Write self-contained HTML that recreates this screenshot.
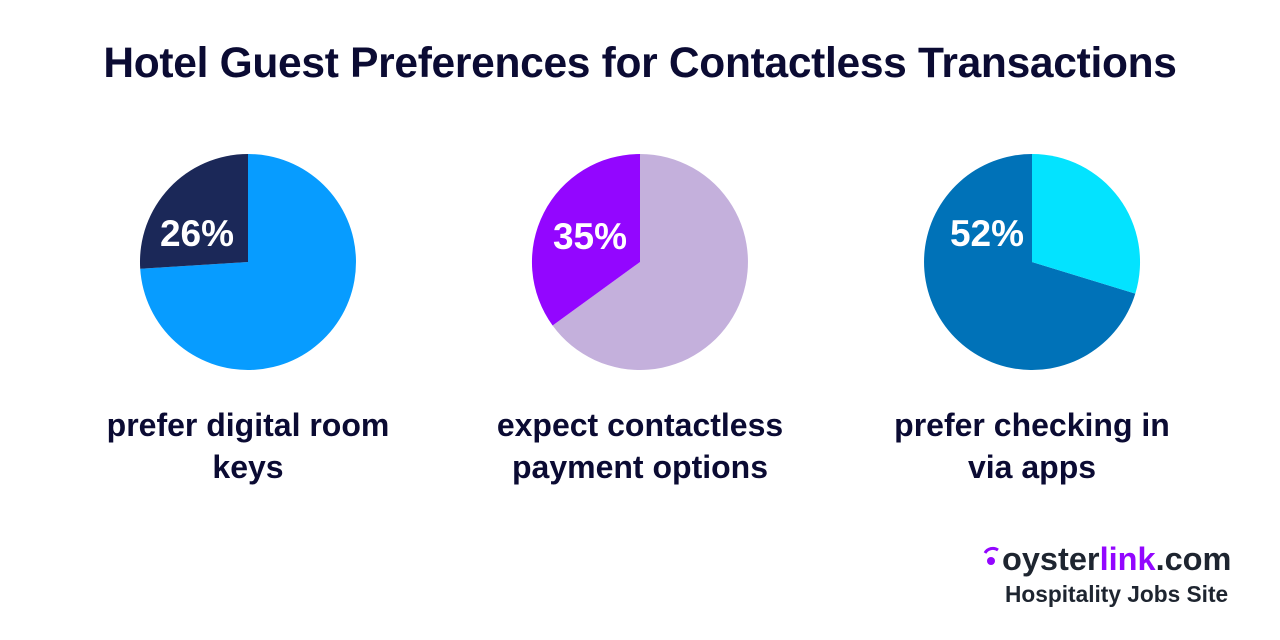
<!DOCTYPE html>
<html><head><meta charset="utf-8"><style>
html,body{margin:0;padding:0;background:#fff;}
body{width:1280px;height:640px;position:relative;overflow:hidden;font-family:"Liberation Sans",sans-serif;}
.t{position:absolute;left:0;width:1280px;top:40px;text-align:center;font-weight:bold;font-size:42.5px;color:#0b0b33;letter-spacing:-0.3px;}
.l{position:absolute;width:400px;text-align:center;font-weight:bold;font-size:32px;line-height:42px;color:#0b0b33;top:404px;}
</style></head><body>
<div class="t">Hotel Guest Preferences for Contactless Transactions</div>
<svg width="1280" height="640" style="position:absolute;left:0;top:0">
<path d="M248,262 L248,154 A108,108 0 1 1 140.2,268.8 Z" fill="#079cff"/>
<path d="M248,262 L248,154 A108,108 0 0 0 140.2,268.8 Z" fill="#1b2858"/>
<path d="M640,262 L640,154 A108,108 0 1 1 552.6,325.5 Z" fill="#c4b0dc"/>
<path d="M640,262 L640,154 A108,108 0 0 0 552.6,325.5 Z" fill="#9306ff"/>
<path d="M1032,262 L1032,154 A108,108 0 1 0 1135.3,293.6 Z" fill="#0072b8"/>
<path d="M1032,262 L1032,154 A108,108 0 0 1 1135.3,293.6 Z" fill="#03e3ff"/>
<g font-family="Liberation Sans, sans-serif" font-weight="bold" font-size="37" fill="#fff" text-anchor="middle">
<text x="197" y="246">26%</text>
<text x="590" y="249">35%</text>
<text x="987" y="246">52%</text>
</g>
<g fill="#9306ff">
<circle cx="991" cy="561" r="4"/>
<path d="M985,553 A9,9 0 0 1 998,550" stroke="#9306ff" stroke-width="3" fill="none"/>
</g>
<text x="1002" y="570" font-family="Liberation Sans, sans-serif" font-weight="bold" font-size="32.5" fill="#1e2530">oyster<tspan fill="#9306ff">link</tspan>.com</text>
<text x="1005" y="602" font-family="Liberation Sans, sans-serif" font-weight="bold" font-size="22.7" fill="#1e2530">Hospitality Jobs Site</text>
</svg>
<div class="l" style="left:48px">prefer digital room<br>keys</div>
<div class="l" style="left:440px">expect contactless<br>payment options</div>
<div class="l" style="left:832px">prefer checking in<br>via apps</div>
</body></html>
